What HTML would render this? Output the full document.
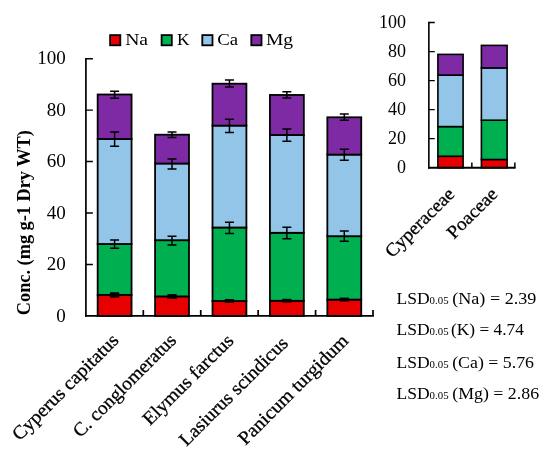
<!DOCTYPE html>
<html><head><meta charset="utf-8"><title>Chart</title>
<style>html,body{margin:0;padding:0;background:#fff}svg{display:block}text{font-family:"Liberation Serif",serif;fill:#000}</style>
</head><body>
<svg width="550" height="456" viewBox="0 0 550 456">
<rect width="550" height="456" fill="#fff"/>
<rect x="97.66" y="294.90" width="33.90" height="21.00" fill="#e60000" stroke="#000" stroke-width="1.8"/>
<rect x="97.66" y="244.00" width="33.90" height="50.90" fill="#00b050" stroke="#000" stroke-width="1.8"/>
<rect x="97.66" y="139.00" width="33.90" height="105.00" fill="#92c5e8" stroke="#000" stroke-width="1.8"/>
<rect x="97.66" y="94.50" width="33.90" height="44.50" fill="#7f2aa5" stroke="#000" stroke-width="1.8"/>
<rect x="110.01" y="292.2" width="9.2" height="5.40" fill="#000"/>
<path d="M114.61 240.00V248.30M110.11 240.00h9M110.11 248.30h9" stroke="#000" stroke-width="1.5" fill="none"/>
<path d="M114.61 132.00V146.20M110.11 132.00h9M110.11 146.20h9" stroke="#000" stroke-width="1.5" fill="none"/>
<path d="M114.61 91.30V98.30M110.11 91.30h9M110.11 98.30h9" stroke="#000" stroke-width="1.5" fill="none"/>
<rect x="155.08" y="296.40" width="33.90" height="19.50" fill="#e60000" stroke="#000" stroke-width="1.8"/>
<rect x="155.08" y="240.20" width="33.90" height="56.20" fill="#00b050" stroke="#000" stroke-width="1.8"/>
<rect x="155.08" y="163.50" width="33.90" height="76.70" fill="#92c5e8" stroke="#000" stroke-width="1.8"/>
<rect x="155.08" y="134.70" width="33.90" height="28.80" fill="#7f2aa5" stroke="#000" stroke-width="1.8"/>
<rect x="167.43" y="294.1" width="9.2" height="4.70" fill="#000"/>
<path d="M172.03 236.20V245.00M167.53 236.20h9M167.53 245.00h9" stroke="#000" stroke-width="1.5" fill="none"/>
<path d="M172.03 158.90V169.00M167.53 158.90h9M167.53 169.00h9" stroke="#000" stroke-width="1.5" fill="none"/>
<path d="M172.03 132.10V137.40M167.53 132.10h9M167.53 137.40h9" stroke="#000" stroke-width="1.5" fill="none"/>
<rect x="212.50" y="301.00" width="33.90" height="14.90" fill="#e60000" stroke="#000" stroke-width="1.8"/>
<rect x="212.50" y="227.50" width="33.90" height="73.50" fill="#00b050" stroke="#000" stroke-width="1.8"/>
<rect x="212.50" y="125.60" width="33.90" height="101.90" fill="#92c5e8" stroke="#000" stroke-width="1.8"/>
<rect x="212.50" y="83.70" width="33.90" height="41.90" fill="#7f2aa5" stroke="#000" stroke-width="1.8"/>
<rect x="224.85" y="299.0" width="9.2" height="3.80" fill="#000"/>
<path d="M229.45 222.20V233.60M224.95 222.20h9M224.95 233.60h9" stroke="#000" stroke-width="1.5" fill="none"/>
<path d="M229.45 119.30V132.50M224.95 119.30h9M224.95 132.50h9" stroke="#000" stroke-width="1.5" fill="none"/>
<path d="M229.45 80.10V87.00M224.95 80.10h9M224.95 87.00h9" stroke="#000" stroke-width="1.5" fill="none"/>
<rect x="269.92" y="300.80" width="33.90" height="15.10" fill="#e60000" stroke="#000" stroke-width="1.8"/>
<rect x="269.92" y="232.80" width="33.90" height="68.00" fill="#00b050" stroke="#000" stroke-width="1.8"/>
<rect x="269.92" y="135.00" width="33.90" height="97.80" fill="#92c5e8" stroke="#000" stroke-width="1.8"/>
<rect x="269.92" y="94.95" width="33.90" height="40.05" fill="#7f2aa5" stroke="#000" stroke-width="1.8"/>
<rect x="282.27" y="298.8" width="9.2" height="3.80" fill="#000"/>
<path d="M286.87 227.30V238.70M282.37 227.30h9M282.37 238.70h9" stroke="#000" stroke-width="1.5" fill="none"/>
<path d="M286.87 129.00V141.20M282.37 129.00h9M282.37 141.20h9" stroke="#000" stroke-width="1.5" fill="none"/>
<path d="M286.87 91.80V97.90M282.37 91.80h9M282.37 97.90h9" stroke="#000" stroke-width="1.5" fill="none"/>
<rect x="327.34" y="299.60" width="33.90" height="16.30" fill="#e60000" stroke="#000" stroke-width="1.8"/>
<rect x="327.34" y="236.20" width="33.90" height="63.40" fill="#00b050" stroke="#000" stroke-width="1.8"/>
<rect x="327.34" y="154.60" width="33.90" height="81.60" fill="#92c5e8" stroke="#000" stroke-width="1.8"/>
<rect x="327.34" y="117.30" width="33.90" height="37.30" fill="#7f2aa5" stroke="#000" stroke-width="1.8"/>
<rect x="339.69" y="297.6" width="9.2" height="3.90" fill="#000"/>
<path d="M344.29 231.10V241.20M339.79 231.10h9M339.79 241.20h9" stroke="#000" stroke-width="1.5" fill="none"/>
<path d="M344.29 149.30V160.20M339.79 149.30h9M339.79 160.20h9" stroke="#000" stroke-width="1.5" fill="none"/>
<path d="M344.29 114.10V120.20M339.79 114.10h9M339.79 120.20h9" stroke="#000" stroke-width="1.5" fill="none"/>
<path d="M85.9 57.95V316.85" stroke="#000" stroke-width="1.7" fill="none"/>
<path d="M85.05000000000001 315.9H373.85" stroke="#000" stroke-width="1.9" fill="none"/>
<path d="M85.9 264.45h7M85.9 213.00h7M85.9 161.55h7M85.9 110.10h7M85.9 58.65h7" stroke="#000" stroke-width="1.45" fill="none"/>
<path d="M143.32 315.9v-5.8M200.74 315.9v-5.8M258.16 315.9v-5.8M315.58 315.9v-5.8M373.00 315.9v-5.8" stroke="#000" stroke-width="1.7" fill="none"/>
<text x="65.8" y="322.00" font-size="19" text-anchor="end">0</text>
<text x="65.8" y="270.05" font-size="19" text-anchor="end">20</text>
<text x="65.8" y="218.60" font-size="19" text-anchor="end">40</text>
<text x="65.8" y="167.15" font-size="19" text-anchor="end">60</text>
<text x="65.8" y="115.70" font-size="19" text-anchor="end">80</text>
<text x="65.8" y="64.25" font-size="19" text-anchor="end">100</text>
<text transform="translate(29.6 222.7) rotate(-90)" font-size="18.5" font-weight="bold" text-anchor="middle" textLength="185" lengthAdjust="spacingAndGlyphs">Conc. (mg g-1 Dry WT)</text>
<rect x="110.10" y="35.1" width="10.2" height="10.2" fill="#e60000" stroke="#000" stroke-width="1.8"/>
<text x="125.20" y="45.0" font-size="17.2" textLength="22.90" lengthAdjust="spacingAndGlyphs">Na</text>
<rect x="161.60" y="35.1" width="10.2" height="10.2" fill="#00b050" stroke="#000" stroke-width="1.8"/>
<text x="177.00" y="45.0" font-size="17.2" textLength="12.50" lengthAdjust="spacingAndGlyphs">K</text>
<rect x="202.30" y="35.1" width="10.2" height="10.2" fill="#92c5e8" stroke="#000" stroke-width="1.8"/>
<text x="217.20" y="45.0" font-size="17.2" textLength="20.90" lengthAdjust="spacingAndGlyphs">Ca</text>
<rect x="251.30" y="35.1" width="10.2" height="10.2" fill="#7f2aa5" stroke="#000" stroke-width="1.8"/>
<text x="265.90" y="45.0" font-size="17.2" textLength="27.20" lengthAdjust="spacingAndGlyphs">Mg</text>
<text transform="translate(119.81 341.30) rotate(-45) scale(1.046 1)" font-size="19" text-anchor="end" stroke="#000" stroke-width="0.3">Cyperus capitatus</text>
<text transform="translate(177.23 341.30) rotate(-45) scale(1.024 1)" font-size="19" text-anchor="end" stroke="#000" stroke-width="0.3">C. conglomeratus</text>
<text transform="translate(234.65 341.70) rotate(-45) scale(1.046 1)" font-size="19" text-anchor="end" stroke="#000" stroke-width="0.3">Elymus farctus</text>
<text transform="translate(289.07 344.30) rotate(-45) scale(1.031 1)" font-size="19" text-anchor="end" stroke="#000" stroke-width="0.3">Lasiurus scindicus</text>
<text transform="translate(349.49 341.80) rotate(-45) scale(1.046 1)" font-size="19" text-anchor="end" stroke="#000" stroke-width="0.3">Panicum turgidum</text>
<rect x="437.90" y="156.25" width="25.20" height="11.50" fill="#e60000" stroke="#000" stroke-width="1.6"/>
<rect x="437.90" y="126.60" width="25.20" height="29.65" fill="#00b050" stroke="#000" stroke-width="1.6"/>
<rect x="437.90" y="75.10" width="25.20" height="51.50" fill="#92c5e8" stroke="#000" stroke-width="1.6"/>
<rect x="437.90" y="54.40" width="25.20" height="20.70" fill="#7f2aa5" stroke="#000" stroke-width="1.6"/>
<rect x="481.40" y="159.50" width="25.70" height="8.25" fill="#e60000" stroke="#000" stroke-width="1.6"/>
<rect x="481.40" y="120.20" width="25.70" height="39.30" fill="#00b050" stroke="#000" stroke-width="1.6"/>
<rect x="481.40" y="67.90" width="25.70" height="52.30" fill="#92c5e8" stroke="#000" stroke-width="1.6"/>
<rect x="481.40" y="45.40" width="25.70" height="22.50" fill="#7f2aa5" stroke="#000" stroke-width="1.6"/>
<path d="M428.85 21.85V168.65" stroke="#000" stroke-width="1.6" fill="none"/>
<path d="M428.05 167.75H515.60" stroke="#000" stroke-width="1.8" fill="none"/>
<path d="M428.85 138.70h5.9M428.85 109.65h5.9M428.85 80.60h5.9M428.85 51.55h5.9M428.85 22.50h5.9" stroke="#000" stroke-width="1.3" fill="none"/>
<path d="M471.85 167.75v-5.3M514.85 167.75v-5.3" stroke="#000" stroke-width="1.5" fill="none"/>
<text x="406.1" y="173.45" font-size="18" text-anchor="end">0</text>
<text x="406.1" y="144.40" font-size="18" text-anchor="end">20</text>
<text x="406.1" y="115.35" font-size="18" text-anchor="end">40</text>
<text x="406.1" y="86.30" font-size="18" text-anchor="end">60</text>
<text x="406.1" y="57.25" font-size="18" text-anchor="end">80</text>
<text x="406.1" y="28.20" font-size="18" text-anchor="end">100</text>
<text transform="translate(455.55 195.15) rotate(-45) scale(1.04 1)" font-size="18.5" text-anchor="end" stroke="#000" stroke-width="0.3">Cyperaceae</text>
<text transform="translate(498.55 195.15) rotate(-45) scale(1.04 1)" font-size="18.5" text-anchor="end" stroke="#000" stroke-width="0.3">Poaceae</text>
<text x="396.6" y="304.0" font-size="17.5" textLength="33.2" lengthAdjust="spacingAndGlyphs">LSD</text>
<text x="429.6" y="304.4" font-size="10.8" textLength="19" lengthAdjust="spacingAndGlyphs">0.05</text>
<text x="452.2" y="304.0" font-size="17.5" textLength="84.20" lengthAdjust="spacingAndGlyphs">(Na) = 2.39</text>
<text x="396.6" y="335.0" font-size="17.5" textLength="33.2" lengthAdjust="spacingAndGlyphs">LSD</text>
<text x="429.6" y="335.4" font-size="10.8" textLength="19" lengthAdjust="spacingAndGlyphs">0.05</text>
<text x="451.0" y="335.0" font-size="17.5" textLength="72.80" lengthAdjust="spacingAndGlyphs">(K) = 4.74</text>
<text x="396.6" y="368.0" font-size="17.5" textLength="33.2" lengthAdjust="spacingAndGlyphs">LSD</text>
<text x="429.6" y="368.4" font-size="10.8" textLength="19" lengthAdjust="spacingAndGlyphs">0.05</text>
<text x="452.2" y="368.0" font-size="17.5" textLength="81.80" lengthAdjust="spacingAndGlyphs">(Ca) = 5.76</text>
<text x="396.6" y="398.7" font-size="17.5" textLength="33.2" lengthAdjust="spacingAndGlyphs">LSD</text>
<text x="429.6" y="399.09999999999997" font-size="10.8" textLength="19" lengthAdjust="spacingAndGlyphs">0.05</text>
<text x="452.2" y="398.7" font-size="17.5" textLength="86.90" lengthAdjust="spacingAndGlyphs">(Mg) = 2.86</text>
</svg>
</body></html>
